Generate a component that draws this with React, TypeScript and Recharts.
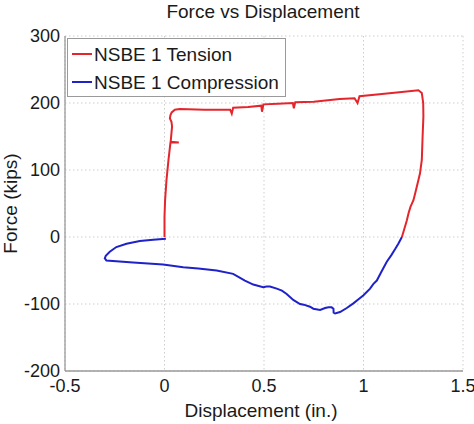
import React from 'react';
import {
  LineChart,
  Line,
  XAxis,
  YAxis,
  CartesianGrid,
  Legend,
} from 'recharts';

const titleText = 'Force vs Displacement';
const xLabel = 'Displacement (in.)';
const yLabel = 'Force (kips)';

const xTicks = [-0.5, 0, 0.5, 1, 1.5];
const yTicks = [-200, -100, 0, 100, 200, 300];

const tensionName = 'NSBE 1 Tension';
const tensionX = [
  0, 0.0, 0.003, 0.01, 0.02, 0.03, 0.072, 0.031, 0.038, 0.035, 0.027, 0.03, 0.036, 0.052, 0.077,
  0.2, 0.33, 0.338, 0.345, 0.42, 0.486, 0.49, 0.497, 0.57, 0.645, 0.65, 0.657, 0.75, 0.88,
  0.955, 0.97, 0.98, 1.08, 1.18, 1.276, 1.293, 1.3, 1.301, 1.297, 1.293, 1.284, 1.276, 1.262,
  1.251, 1.236, 1.226, 1.218, 1.205, 1.193,
];
const tensionY = [
  0, 30, 55, 85, 115, 141, 141, 142, 165, 172, 177, 182, 186, 190, 191,
  190, 190, 184, 193, 194, 196, 187, 198, 199, 200, 192, 201, 202, 206,
  207, 200, 210, 213, 216, 219, 215, 200, 180, 150, 115, 95, 85, 68,
  55, 45, 35, 25, 12, 0,
];

const compressionName = 'NSBE 1 Compression';
const compressionX = [
  1.193, 1.175, 1.159, 1.14, 1.117, 1.09, 1.067, 1.05, 1.033, 1.0, 0.975, 0.949, 0.916, 0.882,
  0.857, 0.85, 0.849, 0.84, 0.824, 0.807, 0.782, 0.748, 0.731, 0.7, 0.681, 0.647, 0.614, 0.59,
  0.564, 0.53, 0.513, 0.496, 0.446, 0.404, 0.38, 0.345, 0.262, 0.17, 0.094, -0.007, -0.158,
  -0.292, -0.3, -0.295, -0.275, -0.242, -0.191, -0.124, -0.057, 0.007,
];
const compressionY = [
  0, -10, -18, -27, -37, -52, -65, -70, -77, -87, -93, -99, -106, -112,
  -114, -113, -107, -105, -105, -106, -109, -107, -104, -101, -100, -94, -85, -80,
  -77, -74, -74, -75, -71, -65, -61, -55, -50, -47, -45, -41, -38,
  -35, -32, -28, -22, -15, -10, -6, -4, -2.5,
];

const seriesOrder = [tensionName, compressionName];

const tensionData = tensionX.map((x, i) => ({ x, y: tensionY[i] }));
const compressionData = compressionX.map((x, i) => ({ x, y: compressionY[i] }));

const FONT = '"Liberation Sans", Arial, Helvetica, sans-serif';
const TEXT = '#1a1a1a';
const AXIS = '#9a9a9a';
const RED = '#e4262c';
const BLUE = '#1e22c8';

const renderLegend = (props: any) => {
  const payload = [...(props.payload || [])].sort(
    (a: any, b: any) => seriesOrder.indexOf(a.value) - seriesOrder.indexOf(b.value)
  );
  return (
    <div
      style={{
        border: `1px solid ${AXIS}`,
        background: '#fff',
        width: 219,
        height: 59,
        paddingTop: 1,
        boxSizing: 'border-box',
        fontFamily: FONT,
      }}
    >
      {payload.map((p: any, i: number) => (
        <div
          key={i}
          style={{ display: 'flex', alignItems: 'center', height: 28, whiteSpace: 'nowrap' }}
        >
          <span
            style={{
              display: 'inline-block',
              width: 20,
              height: 2,
              background: p.color,
              marginLeft: 4,
            }}
          />
          <span style={{ marginLeft: 2, fontSize: 19, color: TEXT, lineHeight: '19px' }}>
            {p.value}
          </span>
        </div>
      ))}
    </div>
  );
};

const NoLabel = () => <g />;

export default function App() {
  return (
    <div style={{ position: 'absolute', left: 0, top: 0, width: 474, height: 424, background: '#fff' }}>
      <div
        style={{
          position: 'absolute',
          left: 263,
          top: 2,
          transform: 'translateX(-50%)',
          whiteSpace: 'nowrap',
          fontFamily: FONT,
          fontSize: 19,
          lineHeight: '19px',
          color: TEXT,
          zIndex: 2,
        }}
      >
        {titleText}
      </div>
      <LineChart
        width={474}
        height={424}
        margin={{ top: 36, right: 11, bottom: 0, left: 5 }}
      >
        <CartesianGrid
          stroke="#cdcdcd"
          strokeDasharray="1.5 2.5"
          horizontalValues={yTicks}
          verticalValues={xTicks}
        />
        <XAxis
          xAxisId={0}
          type="number"
          dataKey="x"
          domain={[-0.5, 1.5]}
          ticks={xTicks}
          interval={0}
          allowDataOverflow
          height={53}
          axisLine={{ stroke: AXIS, strokeWidth: 1.3 }}
          tickLine={false}
          tickSize={6}
          tickMargin={2}
          tick={{ fill: TEXT, fontSize: 18, fontFamily: FONT }}
          label={{
            value: xLabel,
            position: 'insideBottom',
            offset: 7,
            dx: -3,
            style: { fill: TEXT, fontSize: 19, fontFamily: FONT },
          }}
        />
        <XAxis
          xAxisId="bm"
          orientation="bottom"
          mirror
          type="number"
          dataKey="x"
          domain={[-0.5, 1.5]}
          ticks={xTicks}
          interval={0}
          allowDataOverflow
          height={0}
          axisLine={false}
          tick={NoLabel}
          tickSize={5}
          tickLine={{ stroke: AXIS }}
        />
        <XAxis
          xAxisId="tm"
          orientation="top"
          mirror
          type="number"
          dataKey="x"
          domain={[-0.5, 1.5]}
          ticks={xTicks}
          interval={0}
          allowDataOverflow
          height={0}
          axisLine={{ stroke: AXIS, strokeWidth: 1.3 }}
          tick={NoLabel}
          tickSize={5}
          tickLine={{ stroke: AXIS }}
        />
        <YAxis
          yAxisId={0}
          type="number"
          domain={[-200, 300]}
          ticks={yTicks}
          interval={0}
          allowDataOverflow
          width={60}
          axisLine={{ stroke: AXIS, strokeWidth: 1.3 }}
          tickLine={false}
          tickSize={3}
          tickMargin={2}
          tick={{ fill: TEXT, fontSize: 18, fontFamily: FONT }}
          label={{
            value: yLabel,
            angle: -90,
            position: 'insideLeft',
            offset: 5,
            style: { textAnchor: 'middle', fill: TEXT, fontSize: 19, fontFamily: FONT },
          }}
        />
        <YAxis
          yAxisId="lm"
          orientation="left"
          mirror
          type="number"
          domain={[-200, 300]}
          ticks={yTicks}
          interval={0}
          allowDataOverflow
          width={0}
          axisLine={false}
          tick={NoLabel}
          tickSize={5}
          tickLine={{ stroke: AXIS }}
        />
        <YAxis
          yAxisId="rm"
          orientation="right"
          mirror
          type="number"
          domain={[-200, 300]}
          ticks={yTicks}
          interval={0}
          allowDataOverflow
          width={0}
          axisLine={{ stroke: AXIS, strokeWidth: 1.3 }}
          tick={NoLabel}
          tickSize={5}
          tickLine={{ stroke: AXIS }}
        />
        <Legend
          layout="vertical"
          align="center"
          verticalAlign="middle"
          content={renderLegend}
          wrapperStyle={{ left: 67, top: 38, width: 'auto', height: 'auto' }}
        />
        <Line
          data={tensionData}
          dataKey="y"
          name={tensionName}
          stroke={RED}
          strokeWidth={2}
          dot={false}
          activeDot={false}
          isAnimationActive={false}
          xAxisId={0}
          yAxisId={0}
        />
        <Line
          data={compressionData}
          dataKey="y"
          name={compressionName}
          stroke={BLUE}
          strokeWidth={2}
          dot={false}
          activeDot={false}
          isAnimationActive={false}
          xAxisId={0}
          yAxisId={0}
        />
      </LineChart>
    </div>
  );
}
